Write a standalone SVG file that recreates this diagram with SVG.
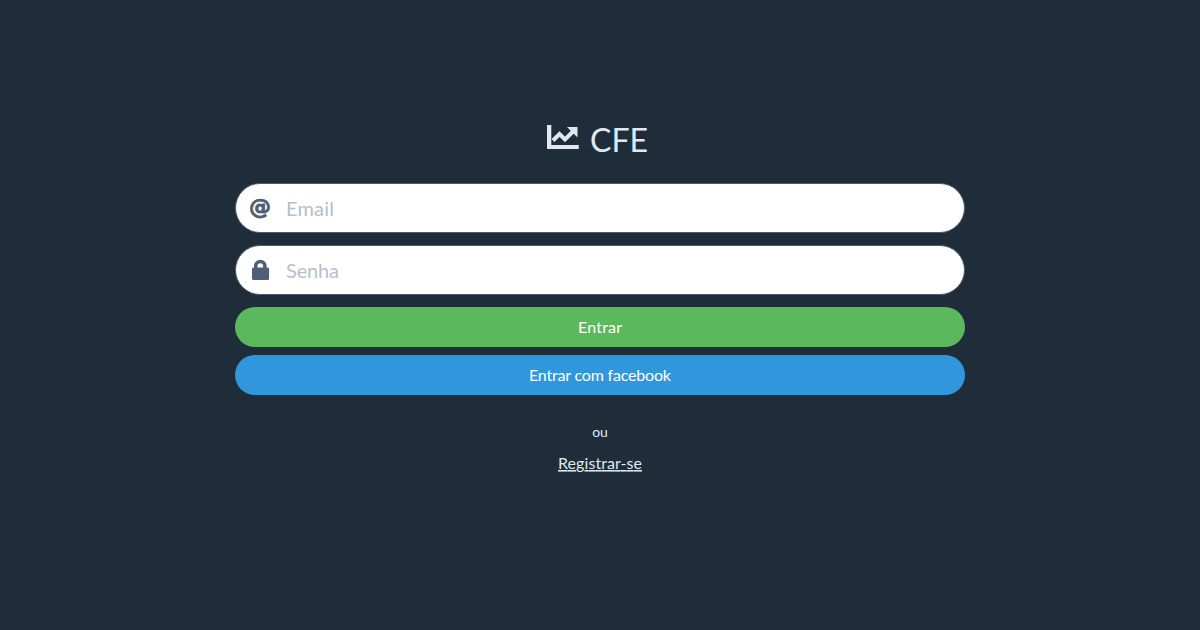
<svg xmlns="http://www.w3.org/2000/svg" width="1200" height="630" viewBox="0 0 1200 630">
<style>
text{font-family:Lato,"Noto Sans",sans-serif;opacity:.999}
.field{fill:#fff;stroke:#4a5b70;stroke-width:1}
.ph{font-size:20px;fill:#b4c0cb}
.btn{font-size:16px;fill:#fff;text-anchor:middle}
.ic{fill:#4e6075}
</style>
<rect width="1200" height="630" fill="#1f2d3b"/>
<g id="logo">
<path fill="#dfe8f0" d="M547 125h4.300v20h27.500v4h-31.800z"/>
<path fill="none" stroke="#dfe8f0" stroke-width="4" d="M553 140.500l6.500-6.500 5.500 5.500 9-9"/>
<path fill="#dfe8f0" d="M567 127h10.500v10.500z"/>
<text x="590" y="152" font-size="33" fill="#dfe8f0" textLength="58" lengthAdjust="spacingAndGlyphs">CFE</text>
</g>
<g id="email">
<rect class="field" x="235.500" y="183.500" width="729" height="49" rx="24.500"/>
<text x="260" y="213.500" font-size="22" font-weight="700" class="ic" stroke="#4e6075" stroke-width=".8" text-anchor="middle" style="font-family:'DejaVu Sans',sans-serif">@</text>
<text class="ph" x="286" y="216" textLength="48">Email</text>
</g>
<g id="senha">
<rect class="field" x="235.500" y="245.500" width="729" height="49" rx="24.500"/>
<path class="ic" d="M254 267.500v-1.500a6.300 6.300 0 0 1 12.600 0v1.500h1a1.500 1.500 0 0 1 1.500 1.500v9.500a1.500 1.500 0 0 1-1.500 1.500h-14.100a1.500 1.500 0 0 1-1.500-1.500v-9.500a1.500 1.500 0 0 1 1.500-1.500zm3.500 0h5.600v-1.500a2.800 2.800 0 0 0-5.600 0z" fill-rule="evenodd"/>
<text class="ph" x="286" y="278" textLength="53">Senha</text>
</g>
<g id="entrar">
<rect x="235" y="307" width="730" height="40" rx="20" fill="#5cb85c"/>
<text class="btn" x="600" y="333" textLength="44">Entrar</text>
</g>
<g id="facebook">
<rect x="235" y="355" width="730" height="40" rx="20" fill="#3097dc"/>
<text class="btn" x="600" y="381" textLength="142">Entrar com facebook</text>
</g>
<g id="ou"><text x="600" y="437" font-size="14" fill="#dfe8f0" text-anchor="middle">ou</text></g>
<g id="registrar"><text x="600" y="469" font-size="16" fill="#dfe8f0" text-anchor="middle" text-decoration="underline" textLength="84">Registrar-se</text></g>
<g id="connectors"/>
</svg>
